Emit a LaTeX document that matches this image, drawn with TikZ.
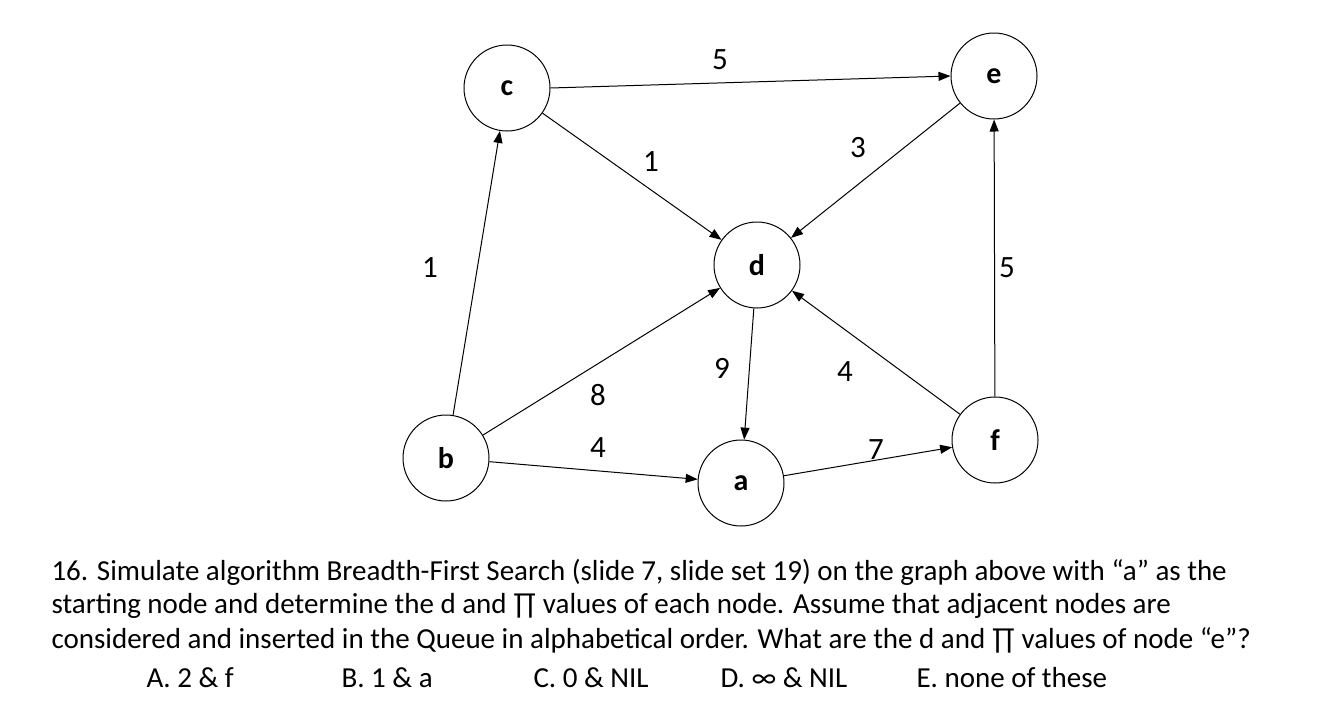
\documentclass[tikz,border=0pt]{standalone}
\usepackage{fontspec}
\setmainfont{Carlito}
\usetikzlibrary{arrows.meta}
\begin{document}
\begin{tikzpicture}[x=1pt,y=-1pt,
  v/.style={circle,draw,line width=1pt,minimum size=86pt,inner sep=0pt,font=\bfseries\fontsize{30}{30}\selectfont},
  e/.style={-{Triangle[length=12pt,width=9pt]},line width=1pt},
  w/.style={font=\fontsize{31}{31}\selectfont},
  t/.style={font=\fontsize{29}{29}\selectfont,anchor=west}]
\useasboundingbox (0,0) rectangle (1322,710);
\node[v] (c) at (507,88) {c};
\node[v] (e) at (994,76) {e};
\node[v] (d) at (757,265) {d};
\node[v] (b) at (446,458) {b};
\node[v] (a) at (741,483) {a};
\node[v] (f) at (995,440) {f};
\draw[e] (c.east) -- (e.west);
\draw[e] (c) -- (d);
\draw[e] (e) -- (d);
\draw[e] (b) -- (c);
\draw[e] (b) -- (d);
\draw[e] (b) -- (a);
\draw[e] (d) -- (a);
\draw[e] (a) -- (f);
\draw[e] (f) -- (d);
\draw[e] (f) -- (e);
\node[w] (l1) at (720,60) {5};
\node[w] (l2) at (651,162) {1};
\node[w] (l3) at (858,148) {3};
\node[w] (l4) at (430,268) {1};
\node[w] (l5) at (1007,268) {5};
\node[w] (l6) at (722,368) {9};
\node[w] (l7) at (845,372) {4};
\node[w] (l8) at (598,395) {8};
\node[w] (l9) at (598,448) {4};
\node[w] (l10) at (876,450) {7};
\node[t] (q1) at (48,572) {16. Simulate algorithm Breadth-First Search (slide 7, slide set 19) on the graph above with “a” as the};
\node[t] (q2) at (48,606) {starting node and determine the d and ∏ values of each node. Assume that adjacent nodes are};
\node[t] (q3) at (48,640) {considered and inserted in the Queue in alphabetical order. What are the d and ∏ values of node “e”?};
\node[t] (oA) at (143,678) {A. 2 \& f};
\node[t] (oB) at (338,678) {B. 1 \& a};
\node[t] (oC) at (530,678) {C. 0 \& NIL};
\node[t] (oD) at (717,678) {D. ∞ \& NIL};
\node[t] (oE) at (913,678) {E. none of these};
\end{tikzpicture}
\end{document}
